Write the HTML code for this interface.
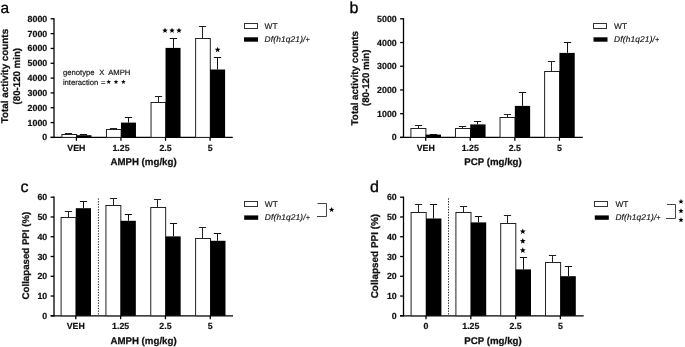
<!DOCTYPE html><html><head><meta charset="utf-8"><style>
html,body{margin:0;padding:0;background:#fff;width:685px;height:347px;overflow:hidden}
svg{display:block}
text{font-family:"Liberation Sans", Arial, Helvetica, sans-serif;fill:#111;text-rendering:geometricPrecision}
.tk{font-size:8.8px;font-weight:bold;stroke:#111;stroke-width:0.2px}
.ttl{font-size:9.7px;font-weight:bold;stroke:#111;stroke-width:0.25px}
.let{font-size:16px;fill:#000;stroke:#000;stroke-width:0.3px}
.leg{font-size:8.4px;fill:#111;stroke:#222;stroke-width:0.15px}
.ann{font-size:7.7px;fill:#111;stroke:#222;stroke-width:0.18px}
</style></head><body>
<svg width="685" height="347" viewBox="0 0 685 347">
<rect width="685" height="347" fill="#fff"/>
<line x1="54" y1="18.2" x2="54" y2="138" stroke="#000" stroke-width="1.3"/>
<line x1="50.6" y1="137.4" x2="54" y2="137.4" stroke="#000" stroke-width="1.3"/>
<text x="47.2" y="140.4" text-anchor="end" class="tk">0</text>
<line x1="50.6" y1="122.58" x2="54" y2="122.58" stroke="#000" stroke-width="1.3"/>
<text x="47.2" y="125.58" text-anchor="end" class="tk">1000</text>
<line x1="50.6" y1="107.75" x2="54" y2="107.75" stroke="#000" stroke-width="1.3"/>
<text x="47.2" y="110.75" text-anchor="end" class="tk">2000</text>
<line x1="50.6" y1="92.93" x2="54" y2="92.93" stroke="#000" stroke-width="1.3"/>
<text x="47.2" y="95.93" text-anchor="end" class="tk">3000</text>
<line x1="50.6" y1="78.1" x2="54" y2="78.1" stroke="#000" stroke-width="1.3"/>
<text x="47.2" y="81.1" text-anchor="end" class="tk">4000</text>
<line x1="50.6" y1="63.28" x2="54" y2="63.28" stroke="#000" stroke-width="1.3"/>
<text x="47.2" y="66.28" text-anchor="end" class="tk">5000</text>
<line x1="50.6" y1="48.45" x2="54" y2="48.45" stroke="#000" stroke-width="1.3"/>
<text x="47.2" y="51.45" text-anchor="end" class="tk">6000</text>
<line x1="50.6" y1="33.62" x2="54" y2="33.62" stroke="#000" stroke-width="1.3"/>
<text x="47.2" y="36.62" text-anchor="end" class="tk">7000</text>
<line x1="50.6" y1="18.8" x2="54" y2="18.8" stroke="#000" stroke-width="1.3"/>
<text x="47.2" y="21.8" text-anchor="end" class="tk">8000</text>
<line x1="50.6" y1="137.4" x2="232.8" y2="137.4" stroke="#000" stroke-width="1.3"/>
<rect x="61.9" y="134.5" width="14.7" height="2.9" fill="#fff" stroke="#222" stroke-width="1"/>
<line x1="68.5" y1="134.5" x2="68.5" y2="133.5" stroke="#222" stroke-width="1"/>
<line x1="64.9" y1="133.5" x2="72.1" y2="133.5" stroke="#222" stroke-width="1"/>
<rect x="76.4" y="135.2" width="15" height="2.2" fill="#000"/>
<line x1="83.5" y1="135.2" x2="83.5" y2="134.5" stroke="#111" stroke-width="1"/>
<line x1="79.9" y1="134.5" x2="87.1" y2="134.5" stroke="#111" stroke-width="1"/>
<line x1="76.4" y1="137.4" x2="76.4" y2="140.8" stroke="#000" stroke-width="1.3"/>
<text x="76.4" y="150.8" text-anchor="middle" class="tk">VEH</text>
<rect x="106.47" y="129.5" width="14.7" height="7.9" fill="#fff" stroke="#222" stroke-width="1"/>
<line x1="113.5" y1="129.5" x2="113.5" y2="128.5" stroke="#222" stroke-width="1"/>
<line x1="109.9" y1="128.5" x2="117.1" y2="128.5" stroke="#222" stroke-width="1"/>
<rect x="120.97" y="122.6" width="15" height="14.8" fill="#000"/>
<line x1="128.5" y1="122.6" x2="128.5" y2="117.5" stroke="#111" stroke-width="1"/>
<line x1="124.9" y1="117.5" x2="132.1" y2="117.5" stroke="#111" stroke-width="1"/>
<line x1="120.97" y1="137.4" x2="120.97" y2="140.8" stroke="#000" stroke-width="1.3"/>
<text x="120.97" y="150.8" text-anchor="middle" class="tk">1.25</text>
<rect x="151.04" y="102.5" width="14.7" height="34.9" fill="#fff" stroke="#222" stroke-width="1"/>
<line x1="158.5" y1="102.5" x2="158.5" y2="96.5" stroke="#222" stroke-width="1"/>
<line x1="154.9" y1="96.5" x2="162.1" y2="96.5" stroke="#222" stroke-width="1"/>
<rect x="165.54" y="47.9" width="15" height="89.5" fill="#000"/>
<line x1="173.5" y1="47.9" x2="173.5" y2="38.5" stroke="#111" stroke-width="1"/>
<line x1="169.9" y1="38.5" x2="177.1" y2="38.5" stroke="#111" stroke-width="1"/>
<line x1="165.54" y1="137.4" x2="165.54" y2="140.8" stroke="#000" stroke-width="1.3"/>
<text x="165.54" y="150.8" text-anchor="middle" class="tk">2.5</text>
<rect x="195.61" y="38.5" width="14.7" height="98.9" fill="#fff" stroke="#222" stroke-width="1"/>
<line x1="202.5" y1="38.5" x2="202.5" y2="26.5" stroke="#222" stroke-width="1"/>
<line x1="198.9" y1="26.5" x2="206.1" y2="26.5" stroke="#222" stroke-width="1"/>
<rect x="210.11" y="69.5" width="15" height="67.9" fill="#000"/>
<line x1="217.5" y1="69.5" x2="217.5" y2="57.5" stroke="#111" stroke-width="1"/>
<line x1="213.9" y1="57.5" x2="221.1" y2="57.5" stroke="#111" stroke-width="1"/>
<line x1="210.11" y1="137.4" x2="210.11" y2="140.8" stroke="#000" stroke-width="1.3"/>
<text x="210.11" y="150.8" text-anchor="middle" class="tk">5</text>
<text transform="translate(143.5,165.3) scale(1,1.0)" text-anchor="middle" class="ttl">AMPH (mg/kg)</text>
<text transform="translate(8.2,76.1) rotate(-90) scale(1,1.0)" text-anchor="middle" class="ttl" style="font-size:9.85px">Total activity counts</text>
<text transform="translate(19.9,76.2) rotate(-90) scale(1,1.0)" text-anchor="middle" class="ttl" style="font-size:9.7px">(80-120 min)</text>
<text x="0.6" y="12.9" class="let" style="font-size:15.5px">a</text>
<rect x="244.5" y="23.5" width="13" height="5" fill="#fff" stroke="#333" stroke-width="1"/>
<rect x="244" y="37.3" width="14" height="4.4" fill="#000"/>
<text x="264.6" y="29" class="leg">WT</text>
<text x="264.6" y="42.2" class="leg" font-style="italic" letter-spacing="0.14">Df(h1q21)/<tspan font-size="7.2px" dy="-0.3">+</tspan></text>
<line x1="403.5" y1="18.2" x2="403.5" y2="138" stroke="#000" stroke-width="1.3"/>
<line x1="400.1" y1="137.4" x2="403.5" y2="137.4" stroke="#000" stroke-width="1.3"/>
<text x="396.7" y="140.4" text-anchor="end" class="tk">0</text>
<line x1="400.1" y1="113.68" x2="403.5" y2="113.68" stroke="#000" stroke-width="1.3"/>
<text x="396.7" y="116.68" text-anchor="end" class="tk">1000</text>
<line x1="400.1" y1="89.96" x2="403.5" y2="89.96" stroke="#000" stroke-width="1.3"/>
<text x="396.7" y="92.96" text-anchor="end" class="tk">2000</text>
<line x1="400.1" y1="66.24" x2="403.5" y2="66.24" stroke="#000" stroke-width="1.3"/>
<text x="396.7" y="69.24" text-anchor="end" class="tk">3000</text>
<line x1="400.1" y1="42.52" x2="403.5" y2="42.52" stroke="#000" stroke-width="1.3"/>
<text x="396.7" y="45.52" text-anchor="end" class="tk">4000</text>
<line x1="400.1" y1="18.8" x2="403.5" y2="18.8" stroke="#000" stroke-width="1.3"/>
<text x="396.7" y="21.8" text-anchor="end" class="tk">5000</text>
<line x1="400.1" y1="137.4" x2="582.8" y2="137.4" stroke="#000" stroke-width="1.3"/>
<rect x="410.9" y="128.5" width="15" height="8.9" fill="#fff" stroke="#222" stroke-width="1"/>
<line x1="418.5" y1="128.5" x2="418.5" y2="125.5" stroke="#222" stroke-width="1"/>
<line x1="414.9" y1="125.5" x2="422.1" y2="125.5" stroke="#222" stroke-width="1"/>
<rect x="425.7" y="134.6" width="15.3" height="2.8" fill="#000"/>
<line x1="433.5" y1="134.6" x2="433.5" y2="134.5" stroke="#111" stroke-width="1"/>
<line x1="429.9" y1="134.5" x2="437.1" y2="134.5" stroke="#111" stroke-width="1"/>
<line x1="425.7" y1="137.4" x2="425.7" y2="140.8" stroke="#000" stroke-width="1.3"/>
<text x="425.7" y="150.8" text-anchor="middle" class="tk">VEH</text>
<rect x="455.47" y="128.5" width="15" height="8.9" fill="#fff" stroke="#222" stroke-width="1"/>
<line x1="462.5" y1="128.5" x2="462.5" y2="126.5" stroke="#222" stroke-width="1"/>
<line x1="458.9" y1="126.5" x2="466.1" y2="126.5" stroke="#222" stroke-width="1"/>
<rect x="470.27" y="124.4" width="15.3" height="13" fill="#000"/>
<line x1="477.5" y1="124.4" x2="477.5" y2="121.5" stroke="#111" stroke-width="1"/>
<line x1="473.9" y1="121.5" x2="481.1" y2="121.5" stroke="#111" stroke-width="1"/>
<line x1="470.27" y1="137.4" x2="470.27" y2="140.8" stroke="#000" stroke-width="1.3"/>
<text x="470.27" y="150.8" text-anchor="middle" class="tk">1.25</text>
<rect x="500.04" y="117.5" width="15" height="19.9" fill="#fff" stroke="#222" stroke-width="1"/>
<line x1="507.5" y1="117.5" x2="507.5" y2="114.5" stroke="#222" stroke-width="1"/>
<line x1="503.9" y1="114.5" x2="511.1" y2="114.5" stroke="#222" stroke-width="1"/>
<rect x="514.84" y="105.9" width="15.3" height="31.5" fill="#000"/>
<line x1="522.5" y1="105.9" x2="522.5" y2="92.5" stroke="#111" stroke-width="1"/>
<line x1="518.9" y1="92.5" x2="526.1" y2="92.5" stroke="#111" stroke-width="1"/>
<line x1="514.84" y1="137.4" x2="514.84" y2="140.8" stroke="#000" stroke-width="1.3"/>
<text x="514.84" y="150.8" text-anchor="middle" class="tk">2.5</text>
<rect x="544.61" y="71.5" width="15" height="65.9" fill="#fff" stroke="#222" stroke-width="1"/>
<line x1="551.5" y1="71.5" x2="551.5" y2="61.5" stroke="#222" stroke-width="1"/>
<line x1="547.9" y1="61.5" x2="555.1" y2="61.5" stroke="#222" stroke-width="1"/>
<rect x="559.41" y="52.9" width="15.3" height="84.5" fill="#000"/>
<line x1="567.5" y1="52.9" x2="567.5" y2="42.5" stroke="#111" stroke-width="1"/>
<line x1="563.9" y1="42.5" x2="571.1" y2="42.5" stroke="#111" stroke-width="1"/>
<line x1="559.41" y1="137.4" x2="559.41" y2="140.8" stroke="#000" stroke-width="1.3"/>
<text x="559.41" y="150.8" text-anchor="middle" class="tk">5</text>
<text transform="translate(493,165.3) scale(1,1.0)" text-anchor="middle" class="ttl">PCP (mg/kg)</text>
<text transform="translate(357.7,78.2) rotate(-90) scale(1,1.0)" text-anchor="middle" class="ttl" style="font-size:9.85px">Total activity counts</text>
<text transform="translate(369,77.8) rotate(-90) scale(1,1.0)" text-anchor="middle" class="ttl" style="font-size:9.7px">(80-120 min)</text>
<text x="349.5" y="13.1" class="let" style="font-size:16px">b</text>
<rect x="593.5" y="23.5" width="13" height="5" fill="#fff" stroke="#333" stroke-width="1"/>
<rect x="593.5" y="37.3" width="14" height="4.4" fill="#000"/>
<text x="614.1" y="29" class="leg">WT</text>
<text x="614.1" y="42.2" class="leg" font-style="italic" letter-spacing="0.14">Df(h1q21)/<tspan font-size="7.2px" dy="-0.3">+</tspan></text>
<line x1="54" y1="196.6" x2="54" y2="316.4" stroke="#000" stroke-width="1.3"/>
<line x1="50.6" y1="315.8" x2="54" y2="315.8" stroke="#000" stroke-width="1.3"/>
<text x="47.2" y="318.8" text-anchor="end" class="tk">0</text>
<line x1="50.6" y1="296.03" x2="54" y2="296.03" stroke="#000" stroke-width="1.3"/>
<text x="47.2" y="299.03" text-anchor="end" class="tk">10</text>
<line x1="50.6" y1="276.27" x2="54" y2="276.27" stroke="#000" stroke-width="1.3"/>
<text x="47.2" y="279.27" text-anchor="end" class="tk">20</text>
<line x1="50.6" y1="256.5" x2="54" y2="256.5" stroke="#000" stroke-width="1.3"/>
<text x="47.2" y="259.5" text-anchor="end" class="tk">30</text>
<line x1="50.6" y1="236.73" x2="54" y2="236.73" stroke="#000" stroke-width="1.3"/>
<text x="47.2" y="239.73" text-anchor="end" class="tk">40</text>
<line x1="50.6" y1="216.97" x2="54" y2="216.97" stroke="#000" stroke-width="1.3"/>
<text x="47.2" y="219.97" text-anchor="end" class="tk">50</text>
<line x1="50.6" y1="197.2" x2="54" y2="197.2" stroke="#000" stroke-width="1.3"/>
<text x="47.2" y="200.2" text-anchor="end" class="tk">60</text>
<line x1="50.6" y1="315.8" x2="233" y2="315.8" stroke="#000" stroke-width="1.3"/>
<rect x="61.1" y="217.5" width="14.9" height="98.3" fill="#fff" stroke="#222" stroke-width="1"/>
<line x1="68.5" y1="217.5" x2="68.5" y2="211.5" stroke="#222" stroke-width="1"/>
<line x1="64.9" y1="211.5" x2="72.1" y2="211.5" stroke="#222" stroke-width="1"/>
<rect x="75.8" y="208.2" width="15.2" height="107.6" fill="#000"/>
<line x1="83.5" y1="208.2" x2="83.5" y2="201.5" stroke="#111" stroke-width="1"/>
<line x1="79.9" y1="201.5" x2="87.1" y2="201.5" stroke="#111" stroke-width="1"/>
<line x1="75.8" y1="315.8" x2="75.8" y2="319.2" stroke="#000" stroke-width="1.3"/>
<text x="75.8" y="329.2" text-anchor="middle" class="tk">VEH</text>
<rect x="105.93" y="205.5" width="14.9" height="110.3" fill="#fff" stroke="#222" stroke-width="1"/>
<line x1="113.5" y1="205.5" x2="113.5" y2="198.5" stroke="#222" stroke-width="1"/>
<line x1="109.9" y1="198.5" x2="117.1" y2="198.5" stroke="#222" stroke-width="1"/>
<rect x="120.63" y="220.8" width="15.2" height="95" fill="#000"/>
<line x1="128.5" y1="220.8" x2="128.5" y2="214.5" stroke="#111" stroke-width="1"/>
<line x1="124.9" y1="214.5" x2="132.1" y2="214.5" stroke="#111" stroke-width="1"/>
<line x1="120.63" y1="315.8" x2="120.63" y2="319.2" stroke="#000" stroke-width="1.3"/>
<text x="120.63" y="329.2" text-anchor="middle" class="tk">1.25</text>
<rect x="150.76" y="207.5" width="14.9" height="108.3" fill="#fff" stroke="#222" stroke-width="1"/>
<line x1="157.5" y1="207.5" x2="157.5" y2="199.5" stroke="#222" stroke-width="1"/>
<line x1="153.9" y1="199.5" x2="161.1" y2="199.5" stroke="#222" stroke-width="1"/>
<rect x="165.46" y="236.4" width="15.2" height="79.4" fill="#000"/>
<line x1="173.5" y1="236.4" x2="173.5" y2="223.5" stroke="#111" stroke-width="1"/>
<line x1="169.9" y1="223.5" x2="177.1" y2="223.5" stroke="#111" stroke-width="1"/>
<line x1="165.46" y1="315.8" x2="165.46" y2="319.2" stroke="#000" stroke-width="1.3"/>
<text x="165.46" y="329.2" text-anchor="middle" class="tk">2.5</text>
<rect x="195.59" y="238.5" width="14.9" height="77.3" fill="#fff" stroke="#222" stroke-width="1"/>
<line x1="202.5" y1="238.5" x2="202.5" y2="227.5" stroke="#222" stroke-width="1"/>
<line x1="198.9" y1="227.5" x2="206.1" y2="227.5" stroke="#222" stroke-width="1"/>
<rect x="210.29" y="240.8" width="15.2" height="75" fill="#000"/>
<line x1="217.5" y1="240.8" x2="217.5" y2="233.5" stroke="#111" stroke-width="1"/>
<line x1="213.9" y1="233.5" x2="221.1" y2="233.5" stroke="#111" stroke-width="1"/>
<line x1="210.29" y1="315.8" x2="210.29" y2="319.2" stroke="#000" stroke-width="1.3"/>
<text x="210.29" y="329.2" text-anchor="middle" class="tk">5</text>
<text transform="translate(143.5,343.7) scale(1,1.0)" text-anchor="middle" class="ttl">AMPH (mg/kg)</text>
<text transform="translate(28.5,255.6) rotate(-90) scale(1,1.0)" text-anchor="middle" class="ttl" style="font-size:9.7px">Collapased PPI (%)</text>
<line x1="98.4" y1="198.4" x2="98.4" y2="315.8" stroke="#222" stroke-width="1" stroke-dasharray="1.3 1.37"/>
<text x="20.4" y="192.1" class="let" style="font-size:16px">c</text>
<rect x="244.5" y="201.5" width="13" height="5" fill="#fff" stroke="#333" stroke-width="1"/>
<rect x="244.2" y="215.4" width="14" height="4.4" fill="#000"/>
<text x="264.8" y="207.1" class="leg">WT</text>
<text x="264.8" y="220.3" class="leg" font-style="italic" letter-spacing="0.14">Df(h1q21)/<tspan font-size="7.2px" dy="-0.3">+</tspan></text>
<line x1="403.5" y1="196.6" x2="403.5" y2="316.4" stroke="#000" stroke-width="1.3"/>
<line x1="400.1" y1="315.8" x2="403.5" y2="315.8" stroke="#000" stroke-width="1.3"/>
<text x="396.7" y="318.8" text-anchor="end" class="tk">0</text>
<line x1="400.1" y1="296.03" x2="403.5" y2="296.03" stroke="#000" stroke-width="1.3"/>
<text x="396.7" y="299.03" text-anchor="end" class="tk">10</text>
<line x1="400.1" y1="276.27" x2="403.5" y2="276.27" stroke="#000" stroke-width="1.3"/>
<text x="396.7" y="279.27" text-anchor="end" class="tk">20</text>
<line x1="400.1" y1="256.5" x2="403.5" y2="256.5" stroke="#000" stroke-width="1.3"/>
<text x="396.7" y="259.5" text-anchor="end" class="tk">30</text>
<line x1="400.1" y1="236.73" x2="403.5" y2="236.73" stroke="#000" stroke-width="1.3"/>
<text x="396.7" y="239.73" text-anchor="end" class="tk">40</text>
<line x1="400.1" y1="216.97" x2="403.5" y2="216.97" stroke="#000" stroke-width="1.3"/>
<text x="396.7" y="219.97" text-anchor="end" class="tk">50</text>
<line x1="400.1" y1="197.2" x2="403.5" y2="197.2" stroke="#000" stroke-width="1.3"/>
<text x="396.7" y="200.2" text-anchor="end" class="tk">60</text>
<line x1="400.1" y1="315.8" x2="583.7" y2="315.8" stroke="#000" stroke-width="1.3"/>
<rect x="411.1" y="212.5" width="15.1" height="103.3" fill="#fff" stroke="#222" stroke-width="1"/>
<line x1="418.5" y1="212.5" x2="418.5" y2="204.5" stroke="#222" stroke-width="1"/>
<line x1="414.9" y1="204.5" x2="422.1" y2="204.5" stroke="#222" stroke-width="1"/>
<rect x="426" y="218.5" width="15.4" height="97.3" fill="#000"/>
<line x1="433.5" y1="218.5" x2="433.5" y2="204.5" stroke="#111" stroke-width="1"/>
<line x1="429.9" y1="204.5" x2="437.1" y2="204.5" stroke="#111" stroke-width="1"/>
<line x1="426" y1="315.8" x2="426" y2="319.2" stroke="#000" stroke-width="1.3"/>
<text x="426" y="329.2" text-anchor="middle" class="tk">0</text>
<rect x="455.9" y="212.5" width="15.1" height="103.3" fill="#fff" stroke="#222" stroke-width="1"/>
<line x1="463.5" y1="212.5" x2="463.5" y2="206.5" stroke="#222" stroke-width="1"/>
<line x1="459.9" y1="206.5" x2="467.1" y2="206.5" stroke="#222" stroke-width="1"/>
<rect x="470.8" y="222.4" width="15.4" height="93.4" fill="#000"/>
<line x1="478.5" y1="222.4" x2="478.5" y2="216.5" stroke="#111" stroke-width="1"/>
<line x1="474.9" y1="216.5" x2="482.1" y2="216.5" stroke="#111" stroke-width="1"/>
<line x1="470.8" y1="315.8" x2="470.8" y2="319.2" stroke="#000" stroke-width="1.3"/>
<text x="470.8" y="329.2" text-anchor="middle" class="tk">1.25</text>
<rect x="500.7" y="223.5" width="15.1" height="92.3" fill="#fff" stroke="#222" stroke-width="1"/>
<line x1="507.5" y1="223.5" x2="507.5" y2="215.5" stroke="#222" stroke-width="1"/>
<line x1="503.9" y1="215.5" x2="511.1" y2="215.5" stroke="#222" stroke-width="1"/>
<rect x="515.6" y="269.4" width="15.4" height="46.4" fill="#000"/>
<line x1="523.5" y1="269.4" x2="523.5" y2="257.5" stroke="#111" stroke-width="1"/>
<line x1="519.9" y1="257.5" x2="527.1" y2="257.5" stroke="#111" stroke-width="1"/>
<line x1="515.6" y1="315.8" x2="515.6" y2="319.2" stroke="#000" stroke-width="1.3"/>
<text x="515.6" y="329.2" text-anchor="middle" class="tk">2.5</text>
<rect x="545.5" y="262.5" width="15.1" height="53.3" fill="#fff" stroke="#222" stroke-width="1"/>
<line x1="552.5" y1="262.5" x2="552.5" y2="255.5" stroke="#222" stroke-width="1"/>
<line x1="548.9" y1="255.5" x2="556.1" y2="255.5" stroke="#222" stroke-width="1"/>
<rect x="560.4" y="276.2" width="15.4" height="39.6" fill="#000"/>
<line x1="568.5" y1="276.2" x2="568.5" y2="266.5" stroke="#111" stroke-width="1"/>
<line x1="564.9" y1="266.5" x2="572.1" y2="266.5" stroke="#111" stroke-width="1"/>
<line x1="560.4" y1="315.8" x2="560.4" y2="319.2" stroke="#000" stroke-width="1.3"/>
<text x="560.4" y="329.2" text-anchor="middle" class="tk">5</text>
<text transform="translate(493,343.7) scale(1,1.0)" text-anchor="middle" class="ttl">PCP (mg/kg)</text>
<text transform="translate(378.3,256.1) rotate(-90) scale(1,1.0)" text-anchor="middle" class="ttl" style="font-size:9.95px">Collapsed PPI (%)</text>
<line x1="448.5" y1="198.4" x2="448.5" y2="315.8" stroke="#222" stroke-width="1" stroke-dasharray="1.3 1.37"/>
<text x="369.9" y="192.1" class="let" style="font-size:16px">d</text>
<rect x="594.5" y="201.5" width="13" height="5" fill="#fff" stroke="#333" stroke-width="1"/>
<rect x="594.8" y="215.4" width="14" height="4.4" fill="#000"/>
<text x="615.4" y="207.1" class="leg">WT</text>
<text x="615.4" y="220.3" class="leg" font-style="italic" letter-spacing="0.14">Df(h1q21)/<tspan font-size="7.2px" dy="-0.3">+</tspan></text>
<text x="62.9" y="75.2" class="ann">genotype</text>
<text x="99.2" y="75.2" class="ann">X</text>
<text x="108.2" y="75.2" class="ann">AMPH</text>
<text x="62.9" y="84.5" class="ann">interaction</text>
<text x="100.9" y="84.5" class="ann">=</text>
<polygon points="108.7,79.4 109.32,81.05 111.08,81.13 109.7,82.22 110.17,83.92 108.7,82.95 107.23,83.92 107.7,82.22 106.32,81.13 108.08,81.05" fill="#111"/>
<polygon points="116,79.4 116.62,81.05 118.38,81.13 117,82.22 117.47,83.92 116,82.95 114.53,83.92 115,82.22 113.62,81.13 115.38,81.05" fill="#111"/>
<polygon points="123.4,79.4 124.02,81.05 125.78,81.13 124.4,82.22 124.87,83.92 123.4,82.95 121.93,83.92 122.4,82.22 121.02,81.13 122.78,81.05" fill="#111"/>
<polygon points="165,27.6 165.74,29.58 167.85,29.67 166.2,30.99 166.76,33.03 165,31.86 163.24,33.03 163.8,30.99 162.15,29.67 164.26,29.58" fill="#000"/>
<polygon points="172,27.6 172.74,29.58 174.85,29.67 173.2,30.99 173.76,33.03 172,31.86 170.24,33.03 170.8,30.99 169.15,29.67 171.26,29.58" fill="#000"/>
<polygon points="179,27.6 179.74,29.58 181.85,29.67 180.2,30.99 180.76,33.03 179,31.86 177.24,33.03 177.8,30.99 176.15,29.67 178.26,29.58" fill="#000"/>
<polygon points="217.6,46.8 218.34,48.78 220.45,48.87 218.8,50.19 219.36,52.23 217.6,51.06 215.84,52.23 216.4,50.19 214.75,48.87 216.86,48.78" fill="#000"/>
<polyline points="317.5,203.5 326.5,203.5 326.5,216.5 317,216.5" fill="none" stroke="#444" stroke-width="1"/>
<polygon points="331.6,207 332.29,208.85 334.26,208.93 332.72,210.16 333.25,212.07 331.6,210.98 329.95,212.07 330.48,210.16 328.94,208.93 330.91,208.85" fill="#000"/>
<polyline points="667,204.5 675.5,204.5 675.5,218.5 666,218.5" fill="none" stroke="#444" stroke-width="1"/>
<polygon points="681,198.8 681.69,200.65 683.66,200.73 682.12,201.96 682.65,203.87 681,202.78 679.35,203.87 679.88,201.96 678.34,200.73 680.31,200.65" fill="#000"/>
<polygon points="681,208.2 681.69,210.05 683.66,210.13 682.12,211.36 682.65,213.27 681,212.18 679.35,213.27 679.88,211.36 678.34,210.13 680.31,210.05" fill="#000"/>
<polygon points="681,217.2 681.69,219.05 683.66,219.13 682.12,220.36 682.65,222.27 681,221.18 679.35,222.27 679.88,220.36 678.34,219.13 680.31,219.05" fill="#000"/>
<polygon points="522.8,228.4 523.57,230.45 525.75,230.54 524.04,231.9 524.62,234.01 522.8,232.8 520.98,234.01 521.56,231.9 519.85,230.54 522.03,230.45" fill="#000"/>
<polygon points="522.8,238 523.57,240.05 525.75,240.14 524.04,241.5 524.62,243.61 522.8,242.4 520.98,243.61 521.56,241.5 519.85,240.14 522.03,240.05" fill="#000"/>
<polygon points="522.8,247.3 523.57,249.35 525.75,249.44 524.04,250.8 524.62,252.91 522.8,251.7 520.98,252.91 521.56,250.8 519.85,249.44 522.03,249.35" fill="#000"/>
</svg></body></html>
